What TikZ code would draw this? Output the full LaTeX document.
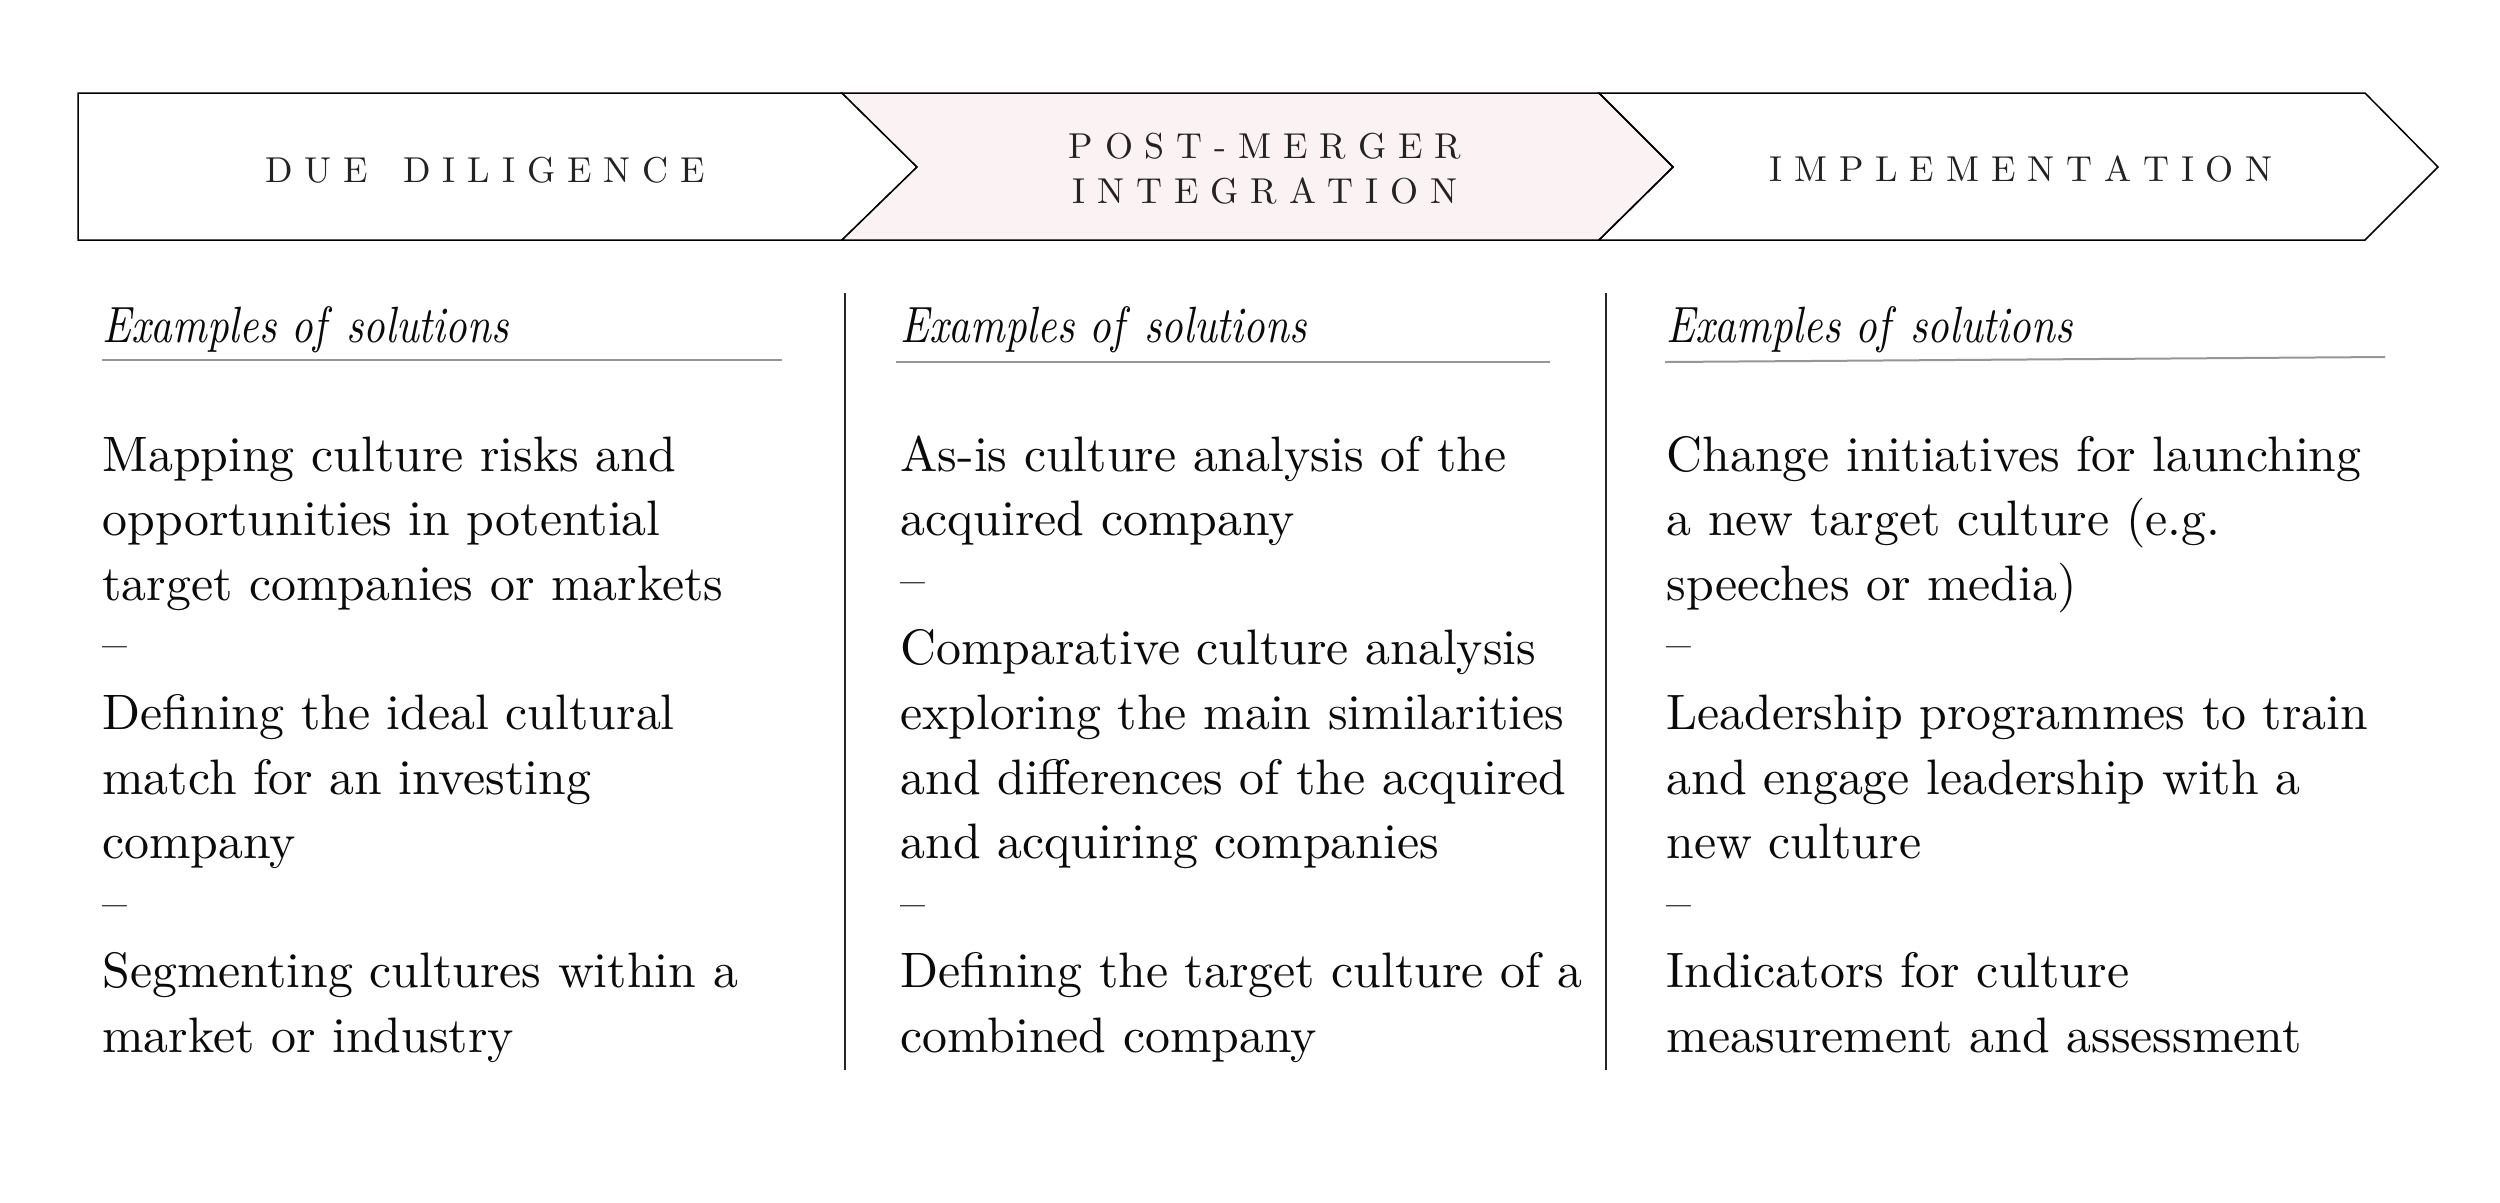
\documentclass[tikz,border=0pt]{standalone}
\usepackage{fontspec}
\setmainfont{lmroman10-regular}[Extension=.otf, ItalicFont=lmroman10-italic, BoldFont=lmroman10-bold]
\usepackage{graphicx}
\definecolor{pinkfill}{RGB}{251,242,243}
\definecolor{ink}{RGB}{10,10,10}
\definecolor{headink}{RGB}{35,35,35}
\definecolor{rulegray}{RGB}{150,150,150}
\makeatletter
\def\spaceout#1{\spaceout@a#1\relax}
\def\spaceout@a#1{\ifx#1\relax\else#1\kern0.33em\relax\expandafter\spaceout@a\fi}
\makeatother
\newcommand\capsline[1]{\spaceout{#1}\kern-0.33em\relax}
\newcommand\sepdash{\raisebox{1.6pt}{–}}
\begin{document}
\begin{tikzpicture}[x=0.4pt,y=-0.4pt,
  chev/.style={draw=black, line width=0.6pt, line join=miter},
  head/.style={font=\fontsize{14.4}{18.4}\selectfont, text=headink, inner sep=0pt, anchor=base},
  exhead/.style={font=\fontsize{20.4}{24}\selectfont\itshape, text=ink, inner sep=0pt, anchor=base west},
  body/.style={font=\fontsize{19.92}{25.84}\selectfont, text=ink, inner sep=0pt, anchor=base west},
  sep/.style={draw=black!85, line width=0.7pt},
  uline/.style={draw=rulegray, line width=0.8pt}]
\useasboundingbox (0,0) rectangle (2500,1202);
\fill[white] (0,0) rectangle (2500,1202);

% process banner
\draw[chev] (78,93) -- (842,93) -- (917,167) -- (842,240) -- (78,240) -- cycle;
\draw[chev, fill=pinkfill] (842,93) -- (1599,93) -- (1673,167) -- (1599,240) -- (842,240) -- (917,167) -- cycle;
\draw[chev] (1599,93) -- (2365,93) -- (2438,167) -- (2365,240) -- (1599,240) -- (1673,167) -- cycle;

\node[head] (h1) at (485,182) {\capsline{DUE~DILIGENCE}};
\node[head] (h2a) at (1265,158) {\capsline{POST-MERGER}};
\node[head] (h2b) at (1265,203) {\capsline{INTEGRATION}};
\node[head] (h3) at (2021,181) {\capsline{IMPLEMENTATION}};

% column separators
\coordinate (s1t) at (845,293);  \coordinate (s1b) at (845,1070);
\coordinate (s2t) at (1606,293); \coordinate (s2b) at (1606,1070);
\draw[sep] (s1t) -- (s1b);
\draw[sep] (s2t) -- (s2b);

% headings
\node[exhead] (e1) at (102,342) {\scalebox{0.83}[1]{Examples of\hspace{2.4pt} solutions}};
\node[exhead] (e2) at (900,342) {\scalebox{0.83}[1]{Examples of\hspace{2.4pt} solutions}};
\node[exhead] (e3) at (1666,342) {\scalebox{0.83}[1]{Examples of\hspace{2.4pt} solutions}};

\coordinate (u1a) at (102,360);  \coordinate (u1b) at (782,360);
\coordinate (u2a) at (896,362);  \coordinate (u2b) at (1550,362);
\coordinate (u3a) at (1665,362); \coordinate (u3b) at (2385,357);
\draw[uline] (u1a) -- (u1b);
\draw[uline] (u2a) -- (u2b);
\draw[uline] (u3a) -- (u3b);

\foreach \t [count=\i from 0] in {Mapping culture risks and, opportunities in potential, target companies or markets, \sepdash, Defining the ideal cultural, match for an investing, company, \sepdash, Segmenting cultures within a, market or industry}
  \node[body] (c1-\i) at (102,{471+64.6*\i}) {\t};

\foreach \t [count=\i from 0] in {As-is culture analysis of the, acquired company, \sepdash, Comparative culture analysis, exploring the main similarities, and differences of the acquired, and acquiring companies, \sepdash, Defining the target culture of a, combined company}
  \node[body] (c2-\i) at (900,{471+64.6*\i}) {\t};

\foreach \t [count=\i from 0] in {Change initiatives for launching, a new target culture (e.g., speeches or media), \sepdash, Leadership programmes to train, and engage leadership with a, new culture, \sepdash, Indicators for culture, measurement and assessment}
  \node[body] (c3-\i) at (1666,{471+64.6*\i}) {\t};
\end{tikzpicture}
\end{document}
